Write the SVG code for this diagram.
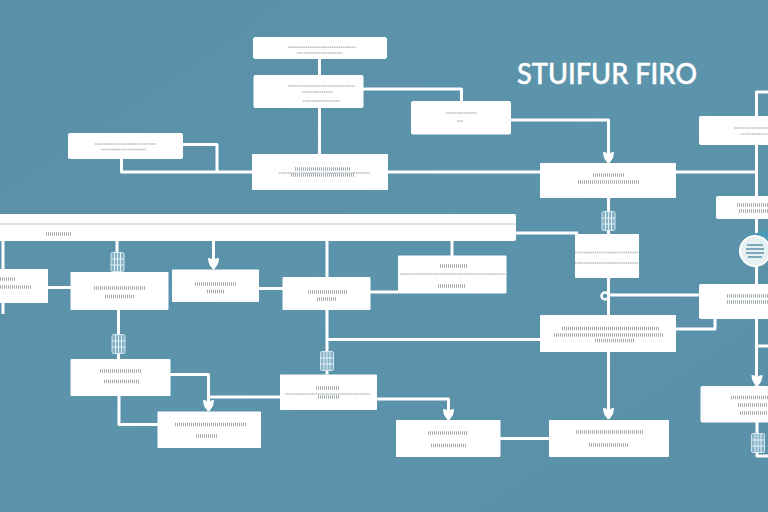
<svg xmlns="http://www.w3.org/2000/svg" width="768" height="512" viewBox="0 0 768 512">
<defs>
<linearGradient id="bg" x1="0" y1="0" x2="1" y2="1"><stop offset="0" stop-color="#5a90a8"/><stop offset="0.5" stop-color="#5c94ac"/><stop offset="1" stop-color="#5a90a8"/></linearGradient>
<path id="arrow" d="M-5.500,-11 Q-2,-11.500 0,-8 Q2,-11.500 5.500,-11 Q5.500,-5 1.500,-1 L1.500,0 L-1.500,0 L-1.500,-1 Q-5.500,-5 -5.500,-11 Z" fill="#fff"/>
<g id="icon"><rect x="-6.500" y="-9.500" width="13" height="19" rx="1.500" fill="#84b2c6" stroke="#cfe3eb" stroke-width="1"/><path d="M-6.500,-3H6.500M-6.500,3H6.500M-3,-9.500V9.500M0,-9.500V9.500M3,-9.500V9.500" stroke="#e4f0f4" stroke-width="1" fill="none"/></g>
</defs>
<style>
.n{fill:#fff}
.c{fill:none;stroke:#fff;stroke-width:3;stroke-linejoin:round}
.t{fill:none;stroke:#a3abaf;stroke-width:3.500;stroke-dasharray:1 1}
.h{fill:none;stroke:#b4bcc0;stroke-width:1.500;stroke-dasharray:1.500 .7}
.title{font-family:"Lato","Liberation Sans",sans-serif;font-size:29px;font-weight:500;fill:#fff;stroke:#fff;stroke-width:.5}
</style>
<rect width="768" height="512" fill="url(#bg)"/>
<g id="connectors">
<path class="c" d="M319.500 59V154M363 89H461.500V101M511 120H608.500V155M183 144.500H217V172M121.500 159V172H252M388 172H540M676 172H756.500M768 92H756.500V386M608.500 198V234M516 233H578M608.500 278V315M605 295H699M608.500 352V412M676 329H715V319M540 339.500H327M327 241V374.500M370 292H398M452 241V256M213.500 241V262M117 241V272M3 241V269M3 303V314M48 287.500H71M259 288.500H283M118.500 310V359M170 374.500H208.500V404M119 396V424.500H158M208.500 397H280M377 399H448.500V412M500 438.500H549M757 422V456H768M756.500 346H768"/>
<use href="#arrow" x="608.500" y="163"/>
<use href="#arrow" x="213.500" y="269"/>
<use href="#arrow" x="208.500" y="411"/>
<use href="#arrow" x="448.500" y="420"/>
<use href="#arrow" x="608.500" y="419"/>
<use href="#arrow" x="757" y="386"/>
<circle cx="605" cy="296" r="3.500" fill="#5c95ae" stroke="#fff" stroke-width="2.500"/>
<use href="#icon" x="117.500" y="262"/>
<use href="#icon" x="118.500" y="344"/>
<use href="#icon" x="327" y="361"/>
<use href="#icon" x="608.500" y="221"/>
<use href="#icon" x="758" y="443"/>
</g>
<g id="hub"><path d="M745,236L768,230V246Z" fill="#4f9ab8"/><circle cx="755" cy="251" r="15" fill="#e6f0f3" stroke="#fff" stroke-width="2"/><path d="M747,245H763M746,249H764M746,253H764M748,257H762" stroke="#7fa8bb" stroke-width="1.800"/></g>
<g id="node-1"><rect class="n" x="253" y="37" width="134" height="22" rx="2"/><path class="h" d="M288 47.300H356M297 53H343"/></g>
<g id="node-2"><rect class="n" x="253.500" y="75" width="110" height="33" rx="2"/><path class="h" d="M288 86H355M302 92H333M303 101H340"/></g>
<g id="node-3"><rect class="n" x="411" y="101" width="100" height="33.500" rx="2"/><path class="h" d="M446 113H477M457 121H463"/></g>
<g id="node-4"><rect class="n" x="68" y="133" width="115" height="26" rx="2"/><path class="h" d="M95 144H156M101 149.500H146"/></g>
<g id="node-5"><rect class="n" x="252" y="154" width="136" height="36" rx="1"/><path class="t" d="M295 169H350M291 175H355"/><path class="h" d="M279 173H370"/></g>
<g id="node-6"><rect class="n" x="540" y="163" width="136" height="35" rx="1"/><path class="t" d="M593 175H624M578 182H639"/></g>
<g id="node-7"><rect class="n" x="699" y="116" width="70" height="29" rx="2"/><path class="h" d="M734 128H768M741 134H768"/></g>
<g id="node-8"><rect class="n" x="716" y="196" width="53" height="23" rx="2"/><path class="t" d="M737 205H768M739 211H768"/></g>
<g id="node-bar"><rect class="n" x="-2" y="214" width="518" height="27" rx="2"/><path d="M0 224H516" stroke="#d2d8da" stroke-width="1.500"/><path class="t" d="M46 234H71"/></g>
<g id="node-9"><rect class="n" x="-2" y="269" width="50" height="34" rx="1"/><path class="t" d="M0 279H16M0 287H32"/></g>
<g id="node-10"><rect class="n" x="70.500" y="272" width="98" height="38" rx="1"/><path class="t" d="M94 288H146M105 296.500H134"/></g>
<g id="node-11"><rect class="n" x="172" y="269.500" width="87" height="32.500" rx="1"/><path class="t" d="M195 284H236M207 291.500H224"/></g>
<g id="node-12"><rect class="n" x="282.500" y="277" width="88" height="33" rx="1"/><path class="t" d="M308 292H347M317 299H337"/></g>
<g id="node-13"><rect class="n" x="398" y="255.500" width="108.500" height="38" rx="1"/><path class="t" d="M440 266H467M438 286H465"/><path class="h" d="M400 274H505"/></g>
<g id="node-14"><rect class="n" x="575" y="234" width="64" height="44" rx="1"/><path class="h" d="M575 252.500H639M575 263H639"/></g>
<g id="node-15"><rect class="n" x="699" y="284" width="70" height="35" rx="2"/><path class="t" d="M727 296H768M727 302H768"/></g>
<g id="node-16"><rect class="n" x="540" y="315" width="136" height="37" rx="1"/><path class="t" d="M562 328.500H659M554 335H663M595 340.500H635"/></g>
<g id="node-17"><rect class="n" x="70.500" y="359" width="100" height="37" rx="1"/><path class="t" d="M100 371H142M104 381.500H140"/></g>
<g id="node-18"><rect class="n" x="280" y="374.500" width="97" height="35.500" rx="1"/><path class="t" d="M316 388H339M318 397H340"/><path class="h" d="M285 394H370"/></g>
<g id="node-19"><rect class="n" x="157.500" y="411.500" width="103.500" height="36.500" rx="1"/><path class="t" d="M175 424.500H247M196 436H218"/></g>
<g id="node-20"><rect class="n" x="396" y="420" width="104.500" height="37" rx="1"/><path class="t" d="M428 433H468M431 445.500H466"/></g>
<g id="node-21"><rect class="n" x="549" y="420" width="120" height="37" rx="1"/><path class="t" d="M576 432H643M589 445H628"/></g>
<g id="node-22"><rect class="n" x="700.500" y="386" width="68" height="36.500" rx="2"/><path class="t" d="M731 397.500H768M738 405H768M740 413H768"/></g>
<text class="title" x="517" y="84" textLength="180" lengthAdjust="spacingAndGlyphs">STUIFUR FIRO</text>
</svg>
